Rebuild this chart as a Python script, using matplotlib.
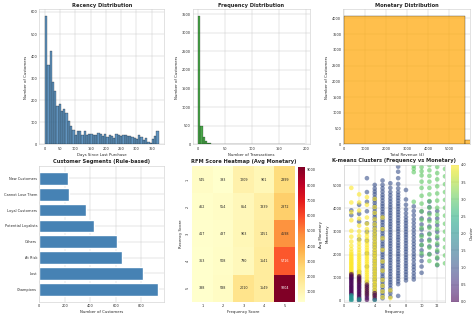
import numpy as np
import matplotlib
matplotlib.use("Agg")
import matplotlib.pyplot as plt
import seaborn as sns

# recency histogram (counts per bin, 50 bins over 0..373 days)
recency_counts = [583, 361, 425, 285, 244, 176, 184, 151, 161, 143,
                  105, 86, 66, 44, 63, 63, 41, 60, 41, 48,
                  48, 43, 41, 52, 47, 40, 46, 35, 45, 38,
                  31, 46, 45, 37, 44, 45, 38, 40, 34, 30,
                  27, 41, 33, 22, 30, 11, 6, 24, 38, 60]
recency_range = (0, 373)

# frequency histogram (50 bins over 1..197 transactions)
frequency_counts = [3455, 485, 198, 90, 45, 28, 17, 12, 9, 7,
                    5, 4, 3, 3, 2, 2, 2, 1, 1, 1,
                    1, 1, 0, 1, 0, 1, 0, 0, 1, 0,
                    0, 1, 0, 0, 0, 1, 0, 0, 0, 0,
                    0, 0, 1, 0, 0, 0, 0, 0, 0, 1]
frequency_range = (1, 197)

# monetary histogram (only the first two bins fall in view)
monetary_counts = [4085, 148]
monetary_bin_width = 5748

# rule-based segments
segments = ["Champions", "Lost", "At Risk", "Others", "Potential Loyalists",
            "Loyal Customers", "Cannot Lose Them", "New Customers"]
segment_counts = [932, 813, 650, 608, 425, 367, 236, 223]

# RFM heatmap: rows = recency score 1..5, cols = frequency score 1..5
r_scores = [1, 2, 3, 4, 5]
f_scores = [1, 2, 3, 4, 5]
avg_monetary = [[545, 393, 1209, 901, 2399],
                [462, 554, 854, 1339, 2872],
                [417, 487, 903, 1451, 4598],
                [363, 508, 790, 1541, 5716],
                [388, 588, 2010, 1549, 9204]]

# k-means clusters: frequency -> monetary values, one dict per cluster
cluster0 = {1: [280, 330, 390, 445, 500, 560, 615, 670, 735, 790, 850, 905, 965, 1030, 1090, 1150],
            2: [25, 95, 160, 230, 290, 360, 420, 490, 555, 615, 680, 740, 810, 875, 935, 1000, 1060],
            3: [40, 120, 210, 290, 370, 450, 540, 620, 700],
            4: [60, 150, 240, 330]}
cluster1 = {1: [980, 1090, 1210, 3700, 3910],
            2: [1150, 1260, 2650, 3420, 3760, 4150],
            3: [820, 1480, 2050, 2600, 2980, 3350, 3870, 4280, 4700, 5300],
            4: [260, 380, 470, 610, 720, 860, 950, 1080, 1200, 1320, 1430, 1560, 1680, 1790,
                1930, 2040, 2160, 2300, 2410, 2520, 2660, 2780, 2890, 3020, 3140, 3260, 3370,
                3510, 3620, 3740, 3860, 3990, 4100, 4230, 4350, 4460, 4600, 4720, 4850, 5010],
            5: [110, 230, 350, 460, 590, 700, 820, 940, 1050, 1170, 1290, 1400, 1520, 1640,
                1750, 1870, 1990, 2100, 2220, 2340, 2450, 2570, 2690, 2800, 2920, 3040, 3150,
                3270, 3390, 3500, 3620, 3740, 3850, 3970, 4090, 4200, 4330, 4460, 4580, 4720,
                4860, 5010, 5200],
            6: [170, 320, 440, 560, 690, 800, 915, 1040, 1160, 1285, 1400, 1520, 1645, 1760,
                1880, 2005, 2120, 2240, 2365, 2480, 2600, 2720, 2845, 2960, 3080, 3205, 3320,
                3440, 3560, 3685, 3800, 3920, 4040, 4160, 4290, 4420, 4560, 4700, 4880, 5080],
            7: [210, 720, 840, 960, 1080, 1190, 1310, 1440, 1550, 1680, 1790, 1920, 2030, 2150,
                2280, 2390, 2510, 2640, 2750, 2870, 3000, 3110, 3230, 3360, 3470, 3600, 3720,
                3840, 3960, 4090, 4200, 4330, 4450, 4570, 4700, 4860, 5050, 5300, 5580, 5800],
            8: [880, 1000, 1130, 1250, 1380, 1500, 1620, 1750, 1870, 1990, 2120, 2240, 2360,
                2490, 2610, 2740, 2860, 2980, 3110, 3230, 3360, 3480, 3620, 3780, 3950, 4150,
                4380, 4790],
            9: [920, 1050, 1190, 1340, 1470, 1600, 1760, 1900, 2030, 2180, 2320, 2460, 2600,
                2750, 2900, 3050, 3200, 3360, 3520, 3700, 3880, 4080],
            10: [1210, 1480, 1720, 1950, 2180, 2400, 2610, 2850, 3080, 3300, 3560, 3860],
            11: [2020, 2350, 2640, 2900, 3210, 3520, 3800, 4050, 4290],
            12: [1540, 1830, 2110, 2400, 2700, 2980, 3270, 3560, 3880]}
cluster2 = {1: [10, 55, 100, 150, 200, 245],
            2: [20, 80],
            4: [30]}
cluster3 = {9: [4280, 5560, 5710, 5830],
            10: [2050, 2420, 2780, 3150, 3500, 3870, 4200, 4540, 4880, 5150, 5420, 5600, 5780],
            11: [1720, 2000, 2300, 2580, 2870, 3150, 3440, 3730, 4020, 4310, 4600, 4880, 5150,
                 5400, 5640, 5860],
            12: [1560, 1870, 2180, 2480, 2790, 3100, 3410, 3720, 4020, 4330, 4640, 4950, 5250,
                 5520, 5790],
            13: [1620, 1960, 2310, 2650, 2990, 3330, 3680, 4020, 4360, 4700, 5040, 5380, 5700]}
cluster4 = {1: [1080, 1130, 1190, 1240, 1310, 1360, 1420, 1470, 1530, 1590, 1640, 1700, 1760,
                1820, 1880, 1950, 2020, 2110, 2230, 2380, 2560, 2770, 3020, 3480, 3830, 4250, 4880],
            2: [820, 900, 980, 1060, 1140, 1210, 1290, 1370, 1450, 1530, 1610, 1700, 1790, 1880,
                1970, 2080, 2200, 2330, 2470, 2620, 2800, 3000, 3250, 3550, 3900, 4250, 4600],
            3: [280, 380, 470, 560, 660, 750, 850, 940, 1040, 1130, 1230, 1320, 1420, 1510, 1610,
                1700, 1800, 1890, 1990, 2090, 2190, 2300, 2410, 2530, 2650, 2780, 2920, 3100,
                3330, 3600, 4150, 4480],
            4: [180, 290, 400, 520, 630, 750, 860, 980, 1090, 1210, 1320, 1440, 1550, 1670, 1780,
                1900, 2010, 2130, 2250, 2380, 2500, 2640, 2780, 2930, 3100, 3300, 3520, 3800,
                4050, 4400],
            5: [150, 400, 650, 900, 1300, 1700, 2200, 2700, 3100, 3600],
            6: [120, 450]}

TITLE = 3.7
LABEL = 2.8
TICK = 2.5

sns.set_style("whitegrid")
plt.rcParams["font.family"] = ["DejaVu Sans"]
plt.rcParams["axes.edgecolor"] = "0.8"
plt.rcParams["axes.linewidth"] = 0.4
plt.rcParams["grid.linewidth"] = 0.35
plt.rcParams["xtick.labelsize"] = TICK
plt.rcParams["ytick.labelsize"] = TICK
plt.rcParams["xtick.major.pad"] = 1.5
plt.rcParams["ytick.major.pad"] = 1.5

fig = plt.figure(figsize=(4.74, 3.15), dpi=100)

W, H = 474.0, 315.0


def rect(x0, y0, x1, y1):
    return [x0 / W, 1 - y1 / H, (x1 - x0) / W, (y1 - y0) / H]


ax1 = fig.add_axes(rect(39.3, 9.3, 164.3, 144.5))
ax2 = fig.add_axes(rect(193, 9.3, 310, 144.5))
ax3 = fig.add_axes(rect(343.3, 9.3, 470, 144.5))
ax4 = fig.add_axes(rect(39.3, 166, 164.3, 301.7))
ax5 = fig.add_axes(rect(192, 166, 295, 301.7))
cax5 = fig.add_axes(rect(298.3, 166.7, 305, 301.7))
ax6 = fig.add_axes(rect(343.5, 165, 445, 301.7))
cax6 = fig.add_axes(rect(451, 165, 459, 301.7))


def label(ax, title, xlabel, ylabel):
    ax.set_title(title, fontsize=TITLE, fontweight="bold", pad=2)
    ax.set_xlabel(xlabel, fontsize=LABEL, labelpad=1.5)
    ax.set_ylabel(ylabel, fontsize=LABEL, labelpad=2)
    ax.tick_params(length=0)


# recency
edges = np.linspace(recency_range[0], recency_range[1], len(recency_counts) + 1)
ax1.bar(edges[:-1], recency_counts, width=np.diff(edges), align="edge",
        color="steelblue", edgecolor="black", linewidth=0.2, alpha=0.85)
label(ax1, "Recency Distribution", "Days Since Last Purchase", "Number of Customers")

# frequency
edges = np.linspace(frequency_range[0], frequency_range[1], len(frequency_counts) + 1)
ax2.bar(edges[:-1], frequency_counts, width=np.diff(edges), align="edge",
        color="green", edgecolor="black", linewidth=0.2, alpha=0.7)
ax2.set_xticks([0, 50, 100, 150, 200])
label(ax2, "Frequency Distribution", "Number of Transactions", "Number of Customers")

# monetary
edges = np.arange(len(monetary_counts) + 1) * monetary_bin_width
ax3.bar(edges[:-1], monetary_counts, width=monetary_bin_width, align="edge",
        color="orange", edgecolor="black", linewidth=0.3, alpha=0.7)
ax3.set_xlim(-48, 5985)
label(ax3, "Monetary Distribution", "Total Revenue (£)", "Number of Customers")

# segments
ax4.barh(segments, segment_counts, color="steelblue", height=0.8)
ax4.set_xticks([0, 200, 400, 600, 800])
label(ax4, "Customer Segments (Rule-based)", "Number of Customers", "")

# heatmap
sns.heatmap(np.array(avg_monetary), ax=ax5, cbar_ax=cax5, cmap="YlOrRd", annot=True, fmt=".0f",
            annot_kws={"fontsize": 2.4}, xticklabels=f_scores, yticklabels=r_scores,
            cbar_kws={"label": "Avg Monetary"})
ax5.set_yticklabels(r_scores, rotation=90, va="center")
label(ax5, "RFM Score Heatmap (Avg Monetary)", "Frequency Score", "Recency Score")
cax5.tick_params(labelsize=TICK, length=0, pad=1.5)
cax5.set_ylabel("Avg Monetary", fontsize=LABEL, labelpad=2)
cax5.set_yticks([1000, 2000, 3000, 4000, 5000, 6000, 7000, 8000, 9000])

# k-means scatter
xs, ys, cs = [], [], []
for cid, cl in [(1, cluster1), (4, cluster4), (0, cluster0), (2, cluster2), (3, cluster3)]:
    for f, vals in cl.items():
        xs += [f] * len(vals)
        ys += vals
        cs += [cid] * len(vals)
sc = ax6.scatter(xs, ys, c=cs, cmap="viridis", vmin=0, vmax=4, alpha=0.6, s=11, linewidths=0)
ax6.set_xlim(0, 13)
ax6.set_ylim(-40, 5870)
ax6.set_xticks([0, 2, 4, 6, 8, 10, 12])
label(ax6, "K-means Clusters (Frequency vs Monetary)", "Frequency", "Monetary")
cb = fig.colorbar(sc, cax=cax6)
cb.set_label("Cluster", fontsize=LABEL, labelpad=2)
cb.outline.set_linewidth(0)
cax6.tick_params(labelsize=TICK, length=0, pad=1.5)

fig.savefig("out.png", dpi=100)
